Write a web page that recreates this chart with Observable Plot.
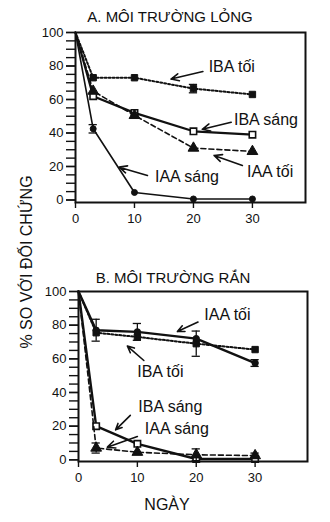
<!DOCTYPE html>
<html>
<head>
<meta charset="utf-8">
<script src="https://cdn.jsdelivr.net/npm/d3@7"></script>
<script src="https://cdn.jsdelivr.net/npm/@observablehq/plot@0.6"></script>
<style>
  body { margin: 0; background: #fff; }
  #wrap { position: relative; width: 330px; height: 522px; font-family: "Liberation Sans", Arial, sans-serif; color: #111; }
  .lbl { position: absolute; transform: translate(-50%, -50%); white-space: nowrap; line-height: 1; z-index: 2; }
  .plot { position: absolute; left: 0; z-index: 1; }
</style>
</head>
<body>
<div id="wrap">
  <div class="plot" id="pA" style="top:0px;"></div>
  <div class="plot" id="pB" style="top:262px;"></div>
  <div class="lbl" id="tA" style="left:170px; top:16px; font-size:15px;"></div>
  <div class="lbl" id="tB" style="left:173px; top:277px; font-size:15px;"></div>
  <div class="lbl" id="yt" style="left:27px; top:262px; font-size:16px; transform: translate(-50%,-50%) rotate(-90deg);"></div>
  <div class="lbl" id="xt" style="left:167px; top:505px; font-size:16px;"></div>
</div>
<script>
// ---- texts ----
const titleA = "A. MÔI TRƯỜNG LỎNG";
const titleB = "B. MÔI TRƯỜNG RẮN";
const yTitle = "% SO VỚI ĐỐI CHỨNG";
const xTitle = "NGÀY";

// ---- data ----
const days = [0, 3, 10, 20, 30];
const xTicks = [0, 10, 20, 30];
const yTicks = [0, 20, 40, 60, 80, 100];
const yMinorTicks = [0, 5, 10, 15, 20, 25, 30, 35, 40, 45, 50, 55, 60, 65, 70, 75, 80, 85, 90, 95, 100];

// A. liquid medium
const liqIBAdark  = [100, 73, 73, 66.5, 63];
const liqIBAdarkErr = [0, 0, 0, 2.5, 0];
const liqIBAlight = [100, 62, 52, 41, 39];
const liqIAAdark  = [100, 65, 50.5, 31, 29];
const liqIAAlight = [100, 42.5, 4.5, 0.6, 0.6];
const liqIAAlightErr = [0, 2.5, 0, 0, 0];

// B. solid medium
const solIAAdark  = [100, 77, 76, 72, 57.5];
const solIAAdarkErr = [0, 6.5, 5, 0, 2];
const solIBAdark  = [100, 75.5, 73, 69, 65.5];
const solIBAdarkErr = [0, 0, 0, 7.5, 0];
const solIBAlight = [100, 20, 9.5, 0.5, 0.5];
const solIAAlight = [100, 7, 4.5, 3, 2.5];
const solIAAlightErr = [0, 3, 0, 3.5, 1.5];

// annotations (label position and arrow from -> to, in data units)
const annotLiquid = [
  {label: "IBA tối",  x: 26.5, y: 79.5, x1: 21.6, y1: 76.7, x2: 16.2, y2: 72.2},
  {label: "IBA sáng", x: 32.3, y: 48,   x1: 26.4, y1: 46.4, x2: 21.5, y2: 42.2},
  {label: "IAA tối",  x: 33,   y: 16.5, x1: 28.3, y1: 20.6, x2: 23.5, y2: 26.6},
  {label: "IAA sáng", x: 18.9, y: 13.7, x1: 12.2, y1: 14.6, x2: 7.4,  y2: 19.6}
];
const annotSolid = [
  {label: "IAA tối",  x: 25.3, y: 86.3, x1: 20.3, y1: 81.9, x2: 16.8, y2: 76.2},
  {label: "IBA tối",  x: 13.9, y: 52.2, x1: 11.1, y1: 59,   x2: 8.3,  y2: 67.6},
  {label: "IBA sáng", x: 15.6, y: 31.4, x1: 8.8,  y1: 26.4, x2: 6.3,  y2: 17.8},
  {label: "IAA sáng", x: 16.7, y: 18.3, x1: 10,   y1: 13.8, x2: 4.9,  y2: 7.5}
];

// ---- helpers ----
function rows(values, errs) {
  return days.map((d, i) => ({x: d, y: values[i], e: errs ? errs[i] : 0}));
}
const FONT = "Liberation Sans, Arial, sans-serif";

function seriesMarks(values, errs, opt) {
  const r = rows(values, errs);
  const pts = r.filter(d => d.x > 0);
  const eb = r.filter(d => d.e > 0);
  const marks = [
    Plot.line(r, {x: "x", y: "y", stroke: "#111", strokeWidth: opt.sw, strokeDasharray: opt.dash || null})
  ];
  if (eb.length) {
    marks.push(Plot.ruleX(eb, {x: "x", y1: d => d.y - d.e, y2: d => d.y + d.e, stroke: "#111", strokeWidth: 1.3}));
    marks.push(Plot.ruleY(eb, {y: d => d.y - d.e, x1: d => d.x - 0.7, x2: d => d.x + 0.7, stroke: "#111", strokeWidth: 1.3}));
    marks.push(Plot.ruleY(eb, {y: d => d.y + d.e, x1: d => d.x - 0.7, x2: d => d.x + 0.7, stroke: "#111", strokeWidth: 1.3}));
  }
  marks.push(Plot.dot(pts, {x: "x", y: "y", symbol: opt.symbol, r: opt.r,
    fill: opt.open ? "white" : "#111", stroke: "#111", strokeWidth: opt.open ? 1.6 : 1}));
  return marks;
}

function panel({series, annot, marginLeft, marginRight, marginTop, xMax, yMin}) {
  return Plot.plot({
    width: 330,
    height: marginTop + 170 + 28,
    marginLeft, marginRight, marginTop, marginBottom: 28,
    style: {fontFamily: FONT, color: "#111", background: "transparent"},
    x: {domain: [0, xMax], axis: null},
    y: {domain: [yMin, 100], axis: null},
    marks: [
      ...series.flatMap(s => seriesMarks(s.values, s.errs, s)),
      Plot.arrow(annot, {x1: "x1", y1: "y1", x2: "x2", y2: "y2", stroke: "#111", strokeWidth: 1.6, headLength: 8, headAngle: 50}),
      Plot.text(annot, {x: "x", y: "y", text: "label", fontSize: 16, fill: "#111", fontFamily: FONT}),
      Plot.axisY(yMinorTicks, {tickSize: 9, tickFormat: () => "", label: null, strokeWidth: 1.4}),
      Plot.axisY(yTicks, {tickSize: 9, tickPadding: 3, fontSize: 13, label: null, strokeWidth: 1.4}),
      Plot.axisX(xTicks, {tickSize: 6, tickPadding: 5, fontSize: 13, label: null, strokeWidth: 1.4}),
      Plot.frame({stroke: "#111", strokeWidth: 2})
    ]
  });
}

document.getElementById("tA").textContent = titleA;
document.getElementById("tB").textContent = titleB;
document.getElementById("yt").textContent = yTitle;
document.getElementById("xt").textContent = xTitle;

document.getElementById("pA").append(panel({
  series: [
    {values: liqIBAdark, errs: liqIBAdarkErr, sw: 2, dash: "2,2", symbol: "square", r: 3.6},
    {values: liqIBAlight, sw: 2.2, symbol: "square", r: 3.6, open: true},
    {values: liqIAAdark, sw: 1.6, dash: "5,3", symbol: "triangle", r: 4},
    {values: liqIAAlight, errs: liqIAAlightErr, sw: 1.6, symbol: "circle", r: 3}
  ],
  annot: annotLiquid, marginLeft: 75, marginRight: 25, marginTop: 32, xMax: 39, yMin: -1.5
}));

document.getElementById("pB").append(panel({
  series: [
    {values: solIBAdark, errs: solIBAdarkErr, sw: 2, dash: "2,2", symbol: "square", r: 3.6},
    {values: solIAAdark, errs: solIAAdarkErr, sw: 2.4, symbol: "circle", r: 3.2},
    {values: solIBAlight, sw: 2.4, symbol: "square", r: 3.6, open: true},
    {values: solIAAlight, errs: solIAAlightErr, sw: 1.6, dash: "5,3", symbol: "triangle", r: 4}
  ],
  annot: annotSolid, marginLeft: 78, marginRight: 23, marginTop: 29, xMax: 38.9, yMin: -1
}));
</script>
</body>
</html>
